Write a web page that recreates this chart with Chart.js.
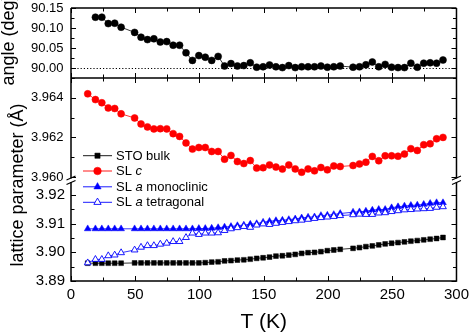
<!DOCTYPE html>
<html><head><meta charset="utf-8">
<script src="https://cdn.jsdelivr.net/npm/chart.js@4/dist/chart.umd.min.js"></script>
<style>html,body{margin:0;padding:0;background:#fff}canvas{display:block}</style>
</head><body>
<canvas id="c" width="474" height="333"></canvas>
<script>
// ---------- data ----------
const T_ANGLE = [19,24,29,34,39,49.5,54.5,59.5,64.5,69.5,74.5,79.5,84.5,89.5,94.5,99.5,104.5,109.5,114.5,119.5,124.5,129.5,134.5,139.5,144.5,149.5,154.5,159.5,164.5,169.5,174.5,179.5,184.5,189.5,194.5,199.5,204.5,209.5,219.5,224.5,229.5,234.5,239.5,244.5,249.5,254.5,259.5,264.5,269.5,274.5,279.5,284.5,289.5];
const ANGLE = [90.127,90.127,90.111,90.112,90.102,
  90.089,90.077,90.071,90.073,90.065,90.066,90.057,90.057,90.038,90.019,90.031,90.027,90.019,90.029,90.005,90.011,90.005,90.006,90.013,90.002,90.003,
  90.0075,90.003,90.001,90.006,90.001,90.003,90.003,90.003,90.005,90.002,90.003,90.005,
  90.002,90.003,90.008,90.015,90.003,90.009,90.002,90.001,90.001,90.012,90.002,90.012,90.013,90.012,90.020];
const T_LATT = [13,19,24,29,34,39,49.5,54.5,59.5,64.5,69.5,74.5,79.5,84.5,89.5,94.5,99.5,104.5,109.5,114.5,119.5,124.5,129.5,134.5,139.5,144.5,149.5,154.5,159.5,164.5,169.5,174.5,179.5,184.5,189.5,194.5,199.5,204.5,209.5,219.5,224.5,229.5,234.5,239.5,244.5,249.5,254.5,259.5,264.5,269.5,274.5,279.5,284.5,289.5];
const STO_BULK = [3.8962,3.8962,3.8962,3.8962,3.8962,3.8962,
  3.8963,3.8963,3.8963,3.8963,3.8963,3.8963,3.8963,3.8963,3.8963,3.8963,3.8963,3.8964,3.8966,3.8967,3.8970,3.8971,3.8973,3.8974,3.8976,3.8979,3.8981,
  3.89834,3.89869,3.89881,3.89905,3.89928,3.89964,3.89987,3.89999,3.90022,3.90058,3.90081,3.90105,
  3.9014,3.90164,3.90199,3.90223,3.90258,3.90293,3.90317,3.9034,3.90364,3.90388,3.90411,3.90435,3.90458,3.90482,3.90517];
const SL_C = [3.9642,3.96391,3.96375,3.96349,3.96346,3.96319,
  3.96298,3.96268,3.96253,3.96243,3.96244,3.96243,3.96219,3.96205,3.96172,3.96141,3.96149,3.96149,3.96129,3.96129,3.9609,3.96109,3.96078,3.96068,3.96083,3.96045,3.96047,
  3.96061,3.9605,3.9604,3.96061,3.96041,3.96024,3.96041,3.96031,3.96048,3.96036,3.96056,3.96053,
  3.96058,3.96066,3.96075,3.96104,3.96082,3.96107,3.96107,3.96105,3.96116,3.96143,3.96134,3.96163,3.96168,3.96193,3.962];
const SL_A_MONO = [3.9082,3.9082,3.9082,3.9082,3.9082,3.9082,
  3.9082,3.9082,3.9082,3.9082,3.9082,3.9082,3.9082,3.9082,3.9082,3.9082,3.9083,3.9083,3.9084,3.9086,3.9088,3.9090,3.9093,3.9095,3.9098,3.9100,3.9105,
  3.91081,3.91106,3.91118,3.91141,3.91165,3.912,3.91224,3.91236,3.91283,3.91294,3.91318,3.91353,
  3.914,3.91412,3.91435,3.9147,3.91495,3.91495,3.91554,3.9159,3.91613,3.91636,3.91648,3.91671,3.91707,3.91731,3.91731];
const SL_A_TETRA = [3.89633,3.89753,3.89753,3.8988,3.89905,3.89986,
  3.90081,3.90177,3.90233,3.90233,3.90283,3.90318,3.90375,3.90375,3.90516,3.90671,3.90622,3.90671,3.90671,3.9068,3.9076,3.9082,3.9086,3.9090,3.9087,3.9095,3.9099,
  3.9097,3.9101,3.9104,3.9107,3.9110,3.9112,3.9115,3.9118,3.9121,3.9123,3.9125,3.9128,
  3.9131,3.9133,3.9132,3.9132,3.9137,3.9138,3.9142,3.9145,3.9148,3.9149,3.9151,3.9152,3.9153,3.9157,3.9159];
const X_TICKS = [0,50,100,150,200,250,300];
const ANGLE_TICKS = [90.00,90.05,90.10,90.15];
const C_TICKS = [3.960,3.962,3.964];
const B_TICKS = [3.89,3.90,3.91,3.92];
const LEGEND_LABELS = ['STO bulk','SL c','SL a monoclinic','SL a tetragonal'];

// ---------- chart ----------
const FONT = "'Liberation Sans', Arial, Helvetica, sans-serif";
Chart.defaults.font.family = FONT;
Chart.defaults.color = '#000';
const pts = (xs, ys) => xs.map((x, i) => ({x: x, y: ys[i]}));
const setTicks = arr => s => { s.ticks = arr.map(v => ({value: v})); };
const noGrid = {display: false, drawTicks: false, tickLength: 0};

function yScale(min, max, ticks, size, pad, dec) {
  return {
    type: 'linear', position: 'left', min: min, max: max, bounds: 'data',
    afterBuildTicks: setTicks(ticks),
    afterFit: s => { s.width = 0; },
    grid: noGrid, border: {display: false},
    ticks: {font: {size: size}, color: '#000', padding: pad, autoSkip: false,
            callback: v => Number(v).toFixed(dec)}
  };
}

const panels = {yA: [8, 78], yC: [78, 177], yB: [183.5, 281]};

const layoutPlugin = {
  id: 'panels',
  afterLayout(chart) {
    const ca = chart.chartArea;
    for (const id in panels) {
      const s = chart.scales[id];
      s.top = panels[id][0]; s.bottom = panels[id][1];
      s.height = s.bottom - s.top;
      s.left = 0; s.right = ca.left; s.width = ca.left;
      s.configure();
    }
  },
  beforeDatasetsDraw(chart) {
    const ctx = chart.ctx, ca = chart.chartArea;
    const L = ca.left, R = ca.right;
    const yA = chart.scales.yA, yC = chart.scales.yC, yB = chart.scales.yB, x = chart.scales.x;
    ctx.save();
    ctx.strokeStyle = '#000';
    // dotted line at 90.00
    ctx.lineWidth = 1;
    ctx.setLineDash([1.2, 2]);
    const y0 = Math.round(yA.getPixelForValue(90.0)) + 0.5;
    ctx.beginPath(); ctx.moveTo(L, y0); ctx.lineTo(R, y0); ctx.stroke();
    ctx.setLineDash([]);
    // frames
    ctx.lineWidth = 1.5;
    ctx.beginPath();
    ctx.moveTo(L, yA.top); ctx.lineTo(R, yA.top);
    ctx.moveTo(L, yA.bottom); ctx.lineTo(R, yA.bottom);
    ctx.moveTo(L, yA.top); ctx.lineTo(L, yC.bottom + 1.5);
    ctx.moveTo(R, yA.top); ctx.lineTo(R, yC.bottom + 1.5);
    ctx.moveTo(L, yB.top - 1.5); ctx.lineTo(L, yB.bottom);
    ctx.moveTo(R, yB.top - 1.5); ctx.lineTo(R, yB.bottom);
    ctx.moveTo(L - 0.75, yB.bottom); ctx.lineTo(R + 0.75, yB.bottom);
    ctx.stroke();
    // break marks
    ctx.lineWidth = 1.1;
    const gapMid = (yC.bottom + yB.top) / 2;
    ctx.beginPath();
    for (const bx of [L, R]) {
      for (const dy of [-2.2, 2.2]) {
        ctx.moveTo(bx - 4.5, gapMid + dy + 2);
        ctx.lineTo(bx + 4.5, gapMid + dy - 2);
      }
    }
    ctx.stroke();
    // y ticks
    ctx.lineWidth = 1;
    const yTicks = (s, major) => {
      const vals = [];
      for (let i = 0; i < major.length; i++) {
        vals.push([major[i], 5]);
        if (i < major.length - 1) vals.push([(major[i] + major[i + 1]) / 2, 3.5]);
      }
      const step = major[1] - major[0];
      vals.push([major[0] - step / 2, 3.5]);
      vals.push([major[major.length - 1] + step / 2, 3.5]);
      ctx.beginPath();
      for (const [v, len] of vals) {
        if (v < s.min - 1e-9 || v > s.max + 1e-9) continue;
        const p = Math.round(s.getPixelForValue(v)) + 0.5;
        ctx.moveTo(L, p); ctx.lineTo(L + len, p);
        ctx.moveTo(R, p); ctx.lineTo(R - len, p);
      }
      ctx.stroke();
    };
    yTicks(yA, ANGLE_TICKS); yTicks(yC, C_TICKS); yTicks(yB, B_TICKS);
    // x ticks on top/bottom of panels
    const xv = [];
    for (let i = 0; i < X_TICKS.length; i++) {
      xv.push([X_TICKS[i], 5]);
      if (i < X_TICKS.length - 1) xv.push([(X_TICKS[i] + X_TICKS[i + 1]) / 2, 3.5]);
    }
    ctx.beginPath();
    for (const [v, len] of xv) {
      const p = Math.round(x.getPixelForValue(v)) + 0.5;
      ctx.moveTo(p, yA.top); ctx.lineTo(p, yA.top + len);
      ctx.moveTo(p, yA.bottom); ctx.lineTo(p, yA.bottom - len);
      ctx.moveTo(p, yC.top); ctx.lineTo(p, yC.top + len);
      ctx.moveTo(p, yB.bottom); ctx.lineTo(p, yB.bottom - len);
    }
    ctx.stroke();
    ctx.restore();
  },
  afterDraw(chart) {
    const ctx = chart.ctx, ca = chart.chartArea;
    ctx.save();
    ctx.fillStyle = '#000';
    // axis titles
    ctx.font = '18px ' + FONT;
    ctx.textAlign = 'center'; ctx.textBaseline = 'alphabetic';
    ctx.save(); ctx.translate(13.5, 40); ctx.rotate(-Math.PI / 2);
    ctx.fillText('angle (deg)', 0, 0); ctx.restore();
    ctx.save(); ctx.translate(23, 185); ctx.rotate(-Math.PI / 2);
    ctx.fillText('lattice parameter (\u00C5)', 0, 0); ctx.restore();
    ctx.font = '21px ' + FONT;
    ctx.fillText('T (K)', (ca.left + ca.right) / 2, 328);
    // legend
    const ds = chart.data.datasets;
    const rows = [[1, 155.7], [2, 171], [3, 186.8], [4, 202.3]];
    const parts = [
      [['STO bulk', false]],
      [['SL ', false], ['c', true]],
      [['SL ', false], ['a', true], [' monoclinic', false]],
      [['SL ', false], ['a', true], [' tetragonal', false]]
    ];
    rows.forEach(([di, ry], k) => {
      const d = ds[di];
      ctx.strokeStyle = d.borderColor; ctx.lineWidth = 0.9;
      ctx.beginPath(); ctx.moveTo(83, ry); ctx.lineTo(112, ry); ctx.stroke();
      ctx.fillStyle = d.pointBackgroundColor; ctx.strokeStyle = d.pointBorderColor;
      ctx.lineWidth = d.pointBorderWidth;
      Chart.helpers.drawPoint(ctx, {pointStyle: d.pointStyle, radius: d.pointRadius + 0.3, borderWidth: d.pointBorderWidth, rotation: 0}, 97.5, ry);
      ctx.fillStyle = '#000'; ctx.textAlign = 'left'; ctx.textBaseline = 'middle';
      let tx = 116;
      for (const [t, it] of parts[k]) {
        ctx.font = (it ? 'italic ' : '') + '13px ' + FONT;
        ctx.fillText(t, tx, ry + 0.5);
        tx += ctx.measureText(t).width;
      }
    });
    ctx.restore();
  }
};

const common = {showLine: true, fill: false, tension: 0, borderWidth: 0.8};
new Chart(document.getElementById('c'), {
  type: 'line',
  data: {datasets: [
    Object.assign({label: 'angle', data: pts(T_ANGLE, ANGLE), yAxisID: 'yA', borderColor: '#000',
      pointStyle: 'circle', pointRadius: 3.5, pointBackgroundColor: '#000', pointBorderColor: '#000', pointBorderWidth: 0.5, order: 1}, common),
    Object.assign({label: LEGEND_LABELS[0], data: pts(T_LATT, STO_BULK), yAxisID: 'yB', borderColor: '#000',
      pointStyle: 'rect', pointRadius: 3.4, pointBackgroundColor: '#000', pointBorderColor: '#000', pointBorderWidth: 0.5, order: 1}, common),
    Object.assign({label: LEGEND_LABELS[1], data: pts(T_LATT, SL_C), yAxisID: 'yC', borderColor: '#ff0000',
      pointStyle: 'circle', pointRadius: 3.5, pointBackgroundColor: '#ff0000', pointBorderColor: '#ff0000', pointBorderWidth: 0.5, order: 1}, common),
    Object.assign({label: LEGEND_LABELS[2], data: pts(T_LATT, SL_A_MONO), yAxisID: 'yB', borderColor: '#0000ff',
      pointStyle: 'triangle', pointRadius: 3.9, pointBackgroundColor: '#0000ff', pointBorderColor: '#0000ff', pointBorderWidth: 0.5, order: 1}, common),
    Object.assign({label: LEGEND_LABELS[3], data: pts(T_LATT, SL_A_TETRA), yAxisID: 'yB', borderColor: '#0000ff',
      pointStyle: 'triangle', pointRadius: 3.9, pointBackgroundColor: '#ffffff', pointBorderColor: '#0000ff', pointBorderWidth: 0.9, order: 0}, common)
  ]},
  options: {
    responsive: false, animation: false, events: [],
    layout: {padding: {left: 71, right: 11, top: 8, bottom: 0}},
    plugins: {legend: {display: false}, tooltip: {enabled: false}},
    scales: {
      x: {type: 'linear', position: 'bottom', min: 0, max: 300, bounds: 'data',
          afterBuildTicks: setTicks(X_TICKS),
          afterFit: s => { s.height = 52; },
          grid: noGrid, border: {display: false},
          ticks: {font: {size: 15}, color: '#000', padding: 5, maxRotation: 0, autoSkip: false,
                  callback: v => String(v)}},
      yA: yScale(89.975, 90.15, ANGLE_TICKS, 13, 7.5, 2),
      yC: yScale(3.960, 3.965, C_TICKS, 13, 7.5, 3),
      yB: yScale(3.89, 3.924, B_TICKS, 15, 6, 2)
    }
  },
  plugins: [layoutPlugin]
});
</script>
</body></html>
